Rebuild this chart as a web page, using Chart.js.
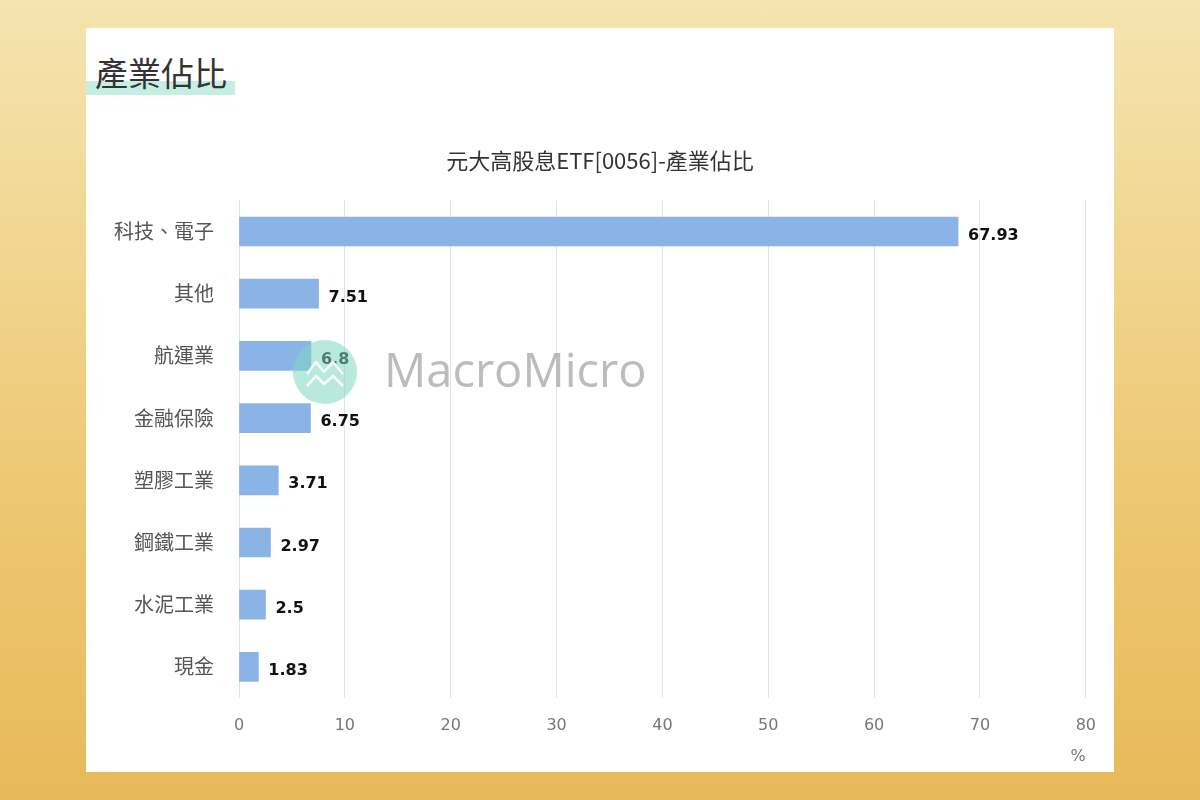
<!DOCTYPE html>
<html>
<head>
<meta charset="utf-8">
<script src="https://cdn.jsdelivr.net/npm/chart.js@4"></script>
<style>
  html, body { margin: 0; padding: 0; }
  body {
    width: 1200px; height: 800px; overflow: hidden; position: relative;
    background: linear-gradient(180deg, #f5e4b0 0%, #eec874 60%, #e8b95a 100%);
    font-family: "Noto Sans CJK TC", "Noto Sans", sans-serif;
  }
  #card {
    position: absolute; left: 86px; top: 28px; width: 1028px; height: 744px;
    background: #ffffff;
  }
  #head {
    position: absolute; left: 0; top: 53px; width: 149px; height: 14px;
    background: #c4efe2;
  }
  #headText {
    position: absolute; left: 9px; top: 24px; font-size: 33px; color: #333;
    line-height: 40px;
  }
  #chartBox { position: absolute; left: 0; top: 0; width: 1028px; height: 744px; }
</style>
</head>
<body>
<div id="card">
  <div id="head"></div>
  <div id="headText">產業佔比</div>
  <div id="chartBox"><canvas id="industry_bar"></canvas></div>
</div>
<script>
var categories = ["科技、電子", "其他", "航運業", "金融保險", "塑膠工業", "鋼鐵工業", "水泥工業", "現金"];
var weights = [67.93, 7.51, 6.8, 6.75, 3.71, 2.97, 2.5, 1.83];
var xTicks = [0, 10, 20, 30, 40, 50, 60, 70, 80];

// value labels at the end of each bar
var valueLabels = {
    id: 'valueLabels',
    afterDatasetsDraw: function(chart) {
        var ctx = chart.ctx;
        var meta = chart.getDatasetMeta(0);
        ctx.save();
        ctx.font = 'bold 16px "DejaVu Sans", sans-serif';
        ctx.fillStyle = '#111';
        ctx.textAlign = 'left';
        ctx.textBaseline = 'middle';
        meta.data.forEach(function(bar, i) {
            ctx.fillText(String(weights[i]), bar.x + 10, bar.y + 4);
        });
        ctx.restore();
    }
};

// MacroMicro watermark
var watermark = {
    id: 'watermark',
    afterDraw: function(chart) {
        var ctx = chart.ctx;
        var cx = 239, cy = 344; // canvas coords
        ctx.save();
        ctx.globalAlpha = 0.55;
        ctx.fillStyle = '#7fd6c1';
        ctx.beginPath();
        ctx.arc(cx, cy, 32, 0, Math.PI * 2);
        ctx.fill();
        ctx.globalAlpha = 0.9;
        ctx.strokeStyle = '#ffffff';
        ctx.lineWidth = 2.5;
        ctx.lineJoin = 'round';
        ctx.beginPath();
        ctx.moveTo(cx - 18, cy + 2);
        ctx.lineTo(cx - 9, cy - 10);
        ctx.lineTo(cx - 1, cy);
        ctx.lineTo(cx + 8, cy - 10);
        ctx.lineTo(cx + 18, cy + 2);
        ctx.stroke();
        ctx.beginPath();
        ctx.moveTo(cx - 18, cy + 14);
        ctx.lineTo(cx - 9, cy + 4);
        ctx.lineTo(cx - 1, cy + 12);
        ctx.lineTo(cx + 8, cy + 4);
        ctx.lineTo(cx + 18, cy + 14);
        ctx.stroke();
        ctx.globalAlpha = 0.5;
        ctx.fillStyle = '#7a7a7a';
        ctx.font = '47px "Open Sans", sans-serif';
        ctx.textAlign = 'left';
        ctx.textBaseline = 'middle';
        ctx.fillText('MacroMicro', 298, 346);
        ctx.restore();
    }
};

var barCanvas = document.getElementById("industry_bar");

var chartData = {
    labels: categories,
    datasets: [{
        label: "產業佔比",
        data: weights,
        backgroundColor: '#8ab4e6',
        borderWidth: 0,
        barThickness: 29
    }]
};

var chartOptions = {
    indexAxis: 'y',
    responsive: true,
    maintainAspectRatio: false,
    animation: false,
    layout: { padding: { left: 25, right: 25, top: 0, bottom: 0 } },
    plugins: {
        legend: { display: false },
        tooltip: { enabled: false },
        title: {
            display: true,
            text: '元大高股息ETF[0056]-產業佔比',
            color: '#333',
            font: { family: '"Noto Sans CJK TC"', size: 22, weight: 'normal' },
            padding: { top: 119, bottom: 27 }
        }
    },
    scales: {
        x: {
            type: 'linear',
            min: 0,
            max: 80,
            afterBuildTicks: function(scale) {
                scale.ticks = xTicks.map(function(v) { return { value: v }; });
            },
            afterFit: function(scale) { scale.height = 74; },
            grid: { color: '#e2e2e2', drawTicks: false, lineWidth: 1 },
            border: { display: false },
            ticks: {
                color: '#777',
                padding: 18,
                font: { family: '"DejaVu Sans"', size: 16 }
            },
            title: {
                display: true,
                text: '%',
                align: 'end',
                color: '#777',
                font: { family: '"DejaVu Sans"', size: 16 },
                padding: { top: 0, bottom: 6 }
            }
        },
        y: {
            afterFit: function(scale) { scale.width = 128; },
            grid: { display: false, drawTicks: false },
            border: { display: false },
            ticks: {
                color: '#555',
                padding: 25,
                font: { family: '"Noto Sans CJK TC"', size: 20 }
            }
        }
    }
};

var barChart = new Chart(barCanvas, {
    type: 'bar',
    data: chartData,
    options: chartOptions,
    plugins: [valueLabels, watermark]
});
</script>
</body>
</html>
